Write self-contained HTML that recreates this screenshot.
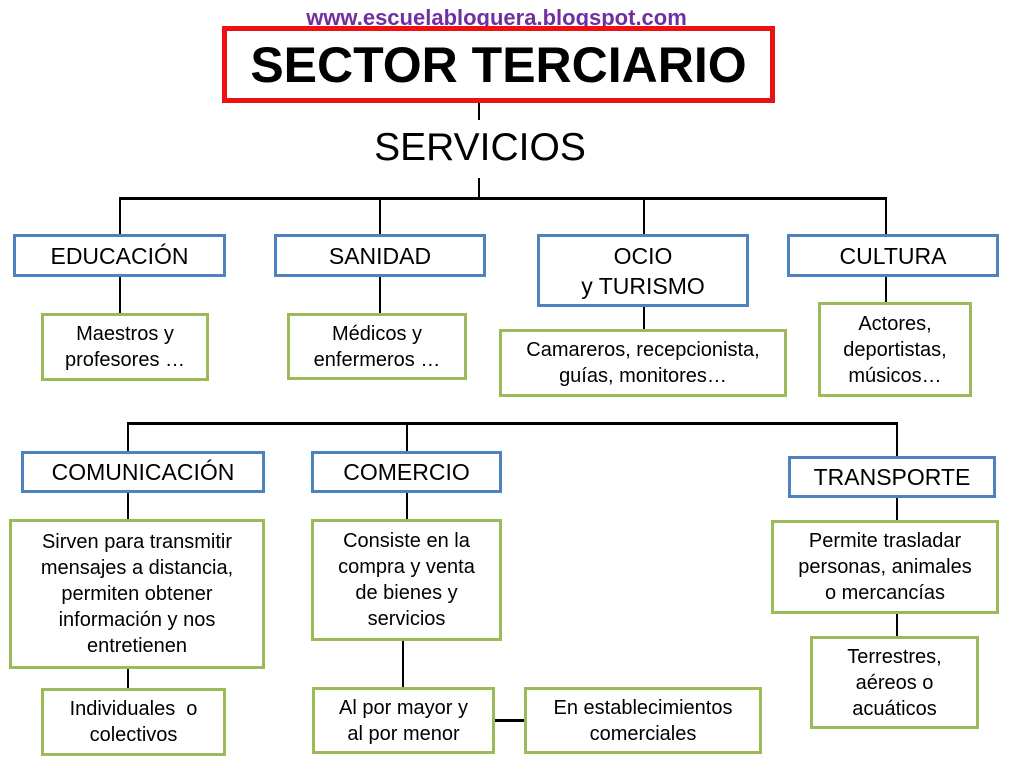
<!DOCTYPE html>
<html><head><meta charset="utf-8"><style>
body{margin:0;width:1011px;height:767px;background:#fff;position:relative;overflow:hidden;font-family:"Liberation Sans",sans-serif;}
.b{position:absolute;box-sizing:border-box;display:flex;align-items:center;justify-content:center;text-align:center;color:#000;background:#fff;}
.bl{border:3px solid #4f81bd;font-size:23px;line-height:30px;}
.gr{border:3px solid #9bbb59;font-size:20px;line-height:26px;}
.v{position:absolute;width:2px;background:#000;}
.h{position:absolute;height:3px;background:#000;}
</style></head><body>
<div style="position:absolute;left:280px;top:5px;width:433px;text-align:center;color:#7030a0;font-weight:bold;font-size:22px;">www.escuelabloguera.blogspot.com</div>
<div class="b" style="left:222px;top:26px;width:553px;height:77px;border:5px solid #ee1111;font-weight:bold;font-size:50px;">SECTOR TERCIARIO</div>
<div class="v" style="left:478px;top:103px;height:17px"></div>
<div style="position:absolute;left:330px;top:126px;width:300px;text-align:center;font-size:39px;">SERVICIOS</div>
<div class="v" style="left:478px;top:178px;height:20px"></div>
<div class="h" style="left:119px;top:197px;width:768px"></div>
<div class="v" style="left:119px;top:198px;height:115px"></div>
<div class="v" style="left:379px;top:198px;height:115px"></div>
<div class="v" style="left:643px;top:198px;height:131px"></div>
<div class="v" style="left:885px;top:198px;height:104px"></div>
<div class="b bl" style="left:13px;top:234px;width:213px;height:43px">EDUCACIÓN</div>
<div class="b bl" style="left:274px;top:234px;width:212px;height:43px">SANIDAD</div>
<div class="b bl" style="left:537px;top:234px;width:212px;height:73px">OCIO<br>y TURISMO</div>
<div class="b bl" style="left:787px;top:234px;width:212px;height:43px">CULTURA</div>
<div class="b gr" style="left:41px;top:313px;width:168px;height:68px">Maestros y<br>profesores …</div>
<div class="b gr" style="left:287px;top:313px;width:180px;height:67px">Médicos y<br>enfermeros …</div>
<div class="b gr" style="left:499px;top:329px;width:288px;height:68px">Camareros, recepcionista,<br>guías, monitores…</div>
<div class="b gr" style="left:818px;top:302px;width:154px;height:95px">Actores,<br>deportistas,<br>músicos…</div>
<div class="h" style="left:127px;top:422px;width:771px"></div>
<div class="v" style="left:127px;top:423px;height:96px"></div>
<div class="v" style="left:406px;top:423px;height:96px"></div>
<div class="v" style="left:896px;top:423px;height:97px"></div>
<div class="b bl" style="left:21px;top:451px;width:244px;height:42px">COMUNICACIÓN</div>
<div class="b bl" style="left:311px;top:451px;width:191px;height:42px">COMERCIO</div>
<div class="b bl" style="left:788px;top:456px;width:208px;height:42px">TRANSPORTE</div>
<div class="b gr" style="left:9px;top:519px;width:256px;height:150px">Sirven para transmitir<br>mensajes a distancia,<br>permiten obtener<br>información y nos<br>entretienen</div>
<div class="b gr" style="left:311px;top:519px;width:191px;height:122px">Consiste en la<br>compra y venta<br>de bienes y<br>servicios</div>
<div class="b gr" style="left:771px;top:520px;width:228px;height:94px">Permite trasladar<br>personas, animales<br>o mercancías</div>
<div class="v" style="left:896px;top:614px;height:22px"></div>
<div class="b gr" style="left:810px;top:636px;width:169px;height:93px">Terrestres,<br>aéreos o<br>acuáticos</div>
<div class="v" style="left:127px;top:669px;height:19px"></div>
<div class="v" style="left:402px;top:641px;height:46px"></div>
<div class="h" style="left:494px;top:719px;width:31px"></div>
<div class="b gr" style="left:41px;top:688px;width:185px;height:68px">Individuales &nbsp;o<br>colectivos</div>
<div class="b gr" style="left:312px;top:687px;width:183px;height:67px">Al por mayor y<br>al por menor</div>
<div class="b gr" style="left:524px;top:687px;width:238px;height:67px">En establecimientos<br>comerciales</div>
</body></html>
